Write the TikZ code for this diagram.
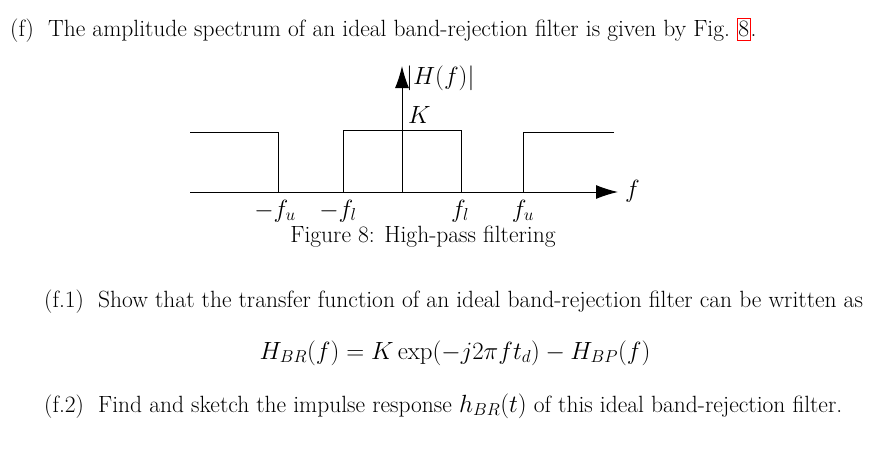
\documentclass[tikz,border=0pt]{standalone}
\usepackage{amsmath}
\usetikzlibrary{arrows.meta}
\begin{document}
\begin{tikzpicture}[x=1pt,y=-1pt,
  txt/.style={anchor=west,inner sep=0pt,font=\fontsize{23.5}{28}\selectfont},
  lbl/.style={inner sep=1pt,font=\fontsize{23.5}{28}\selectfont},
  sig/.style={line width=1pt}]
\useasboundingbox[fill=white] (0,0) rectangle (880,460);
\node[txt] (t1) at (10,30) {(f)\ \ The amplitude spectrum of an ideal band-rejection filter is given by Fig.~\fcolorbox{red}{white}{\kern-2pt 8\kern-2pt}.};
\coordinate (o) at (402,192);
\coordinate (xe) at (618,192);
\coordinate (ye) at (402,66);
\draw[sig,-{Latex[length=22pt,width=14pt]}] (190,192) -- (xe);
\draw[sig,-{Latex[length=22pt,width=14pt]}] (o) -- (ye);
\draw[sig] (190,132) -- (278,132) -- (278,192);
\draw[sig] (343,192) -- (343,130) -- (461,130) -- (461,192);
\draw[sig] (614,132) -- (523,132) -- (523,192);
\node[lbl,anchor=west] (h) at (405,78) {$|H(f)|$};
\node[lbl,anchor=west] (k) at (407,115) {$K$};
\node[lbl,anchor=west] (f) at (624,191) {$f$};
\node[lbl] (a) at (275,211) {$-f_u$};
\node[lbl] (b) at (338,211) {$-f_l$};
\node[lbl] (c) at (460,211) {$f_l$};
\node[lbl] (d) at (523,211) {$f_u$};
\node[lbl] (cap) at (423,237) {Figure 8: High-pass filtering};
\node[txt] (t2) at (44,302) {(f.1)\ \ Show that the transfer function of an ideal band-rejection filter can be written as};
\node[lbl] (eq) at (455,353) {$H_{BR}(f)=K\exp(-j2\pi f t_d)-H_{BP}(f)$};
\node[txt] (t3) at (44,406) {(f.2)\ \ Find and sketch the impulse response $h_{BR}(t)$ of this ideal band-rejection filter.};
\end{tikzpicture}
\end{document}
